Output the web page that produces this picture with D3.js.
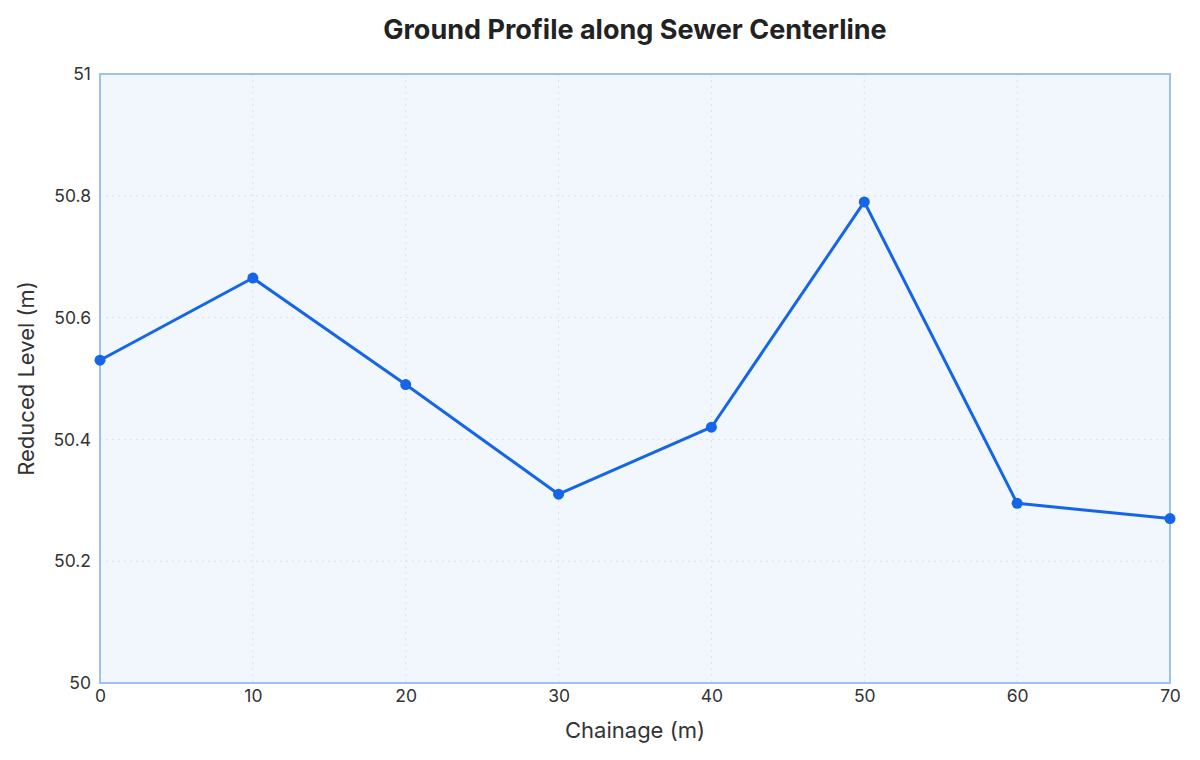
<!DOCTYPE html>
<html>
<head>
<meta charset="utf-8">
<script src="https://cdn.jsdelivr.net/npm/d3@7"></script>
<style>
  html, body { margin: 0; padding: 0; background: #fff; }
  svg { display: block; font-family: Inter, "Noto Sans", sans-serif; }
</style>
</head>
<body>
<svg id="chart" width="1200" height="760"></svg>
<script>
const chainage = [0, 10, 20, 30, 40, 50, 60, 70];
const reducedLevel = [50.53, 50.665, 50.49, 50.31, 50.42, 50.79, 50.295, 50.27];
const xTicks = [0, 10, 20, 30, 40, 50, 60, 70];
const yTicks = [50, 50.2, 50.4, 50.6, 50.8, 51];
const title = "Ground Profile along Sewer Centerline";
const xLabel = "Chainage (m)";
const yLabel = "Reduced Level (m)";

const margin = { left: 100, right: 30, top: 74, bottom: 77 };
const W = 1200, H = 760;
const iw = W - margin.left - margin.right;
const ih = H - margin.top - margin.bottom;

const svg = d3.select("#chart");
const g = svg.append("g").attr("transform", `translate(${margin.left},${margin.top})`);

const x = d3.scaleLinear().domain([0, 70]).range([0, iw]);
const y = d3.scaleLinear().domain([50, 51]).range([ih, 0]);

g.append("rect").attr("x", 0).attr("y", 0).attr("width", iw).attr("height", ih)
  .attr("fill", "#f2f7fe");

// grid
g.append("g").selectAll("line").data(yTicks.slice(1, -1)).join("line")
  .attr("x1", 0).attr("x2", iw).attr("y1", d => y(d)).attr("y2", d => y(d))
  .attr("stroke", "#dbe3ee").attr("stroke-width", 1).attr("stroke-dasharray", "2,4");
g.append("g").selectAll("line").data(xTicks.slice(1, -1)).join("line")
  .attr("y1", 0).attr("y2", ih).attr("x1", d => x(d)).attr("x2", d => x(d))
  .attr("stroke", "#dbe3ee").attr("stroke-width", 1).attr("stroke-dasharray", "2,4");

// axes
const xAxis = g.append("g").attr("transform", `translate(0,${ih})`)
  .call(d3.axisBottom(x).tickValues(xTicks).tickSize(0).tickPadding(7).tickFormat(d3.format("d")));
const yAxis = g.append("g")
  .call(d3.axisLeft(y).tickValues(yTicks).tickSize(0).tickPadding(9).tickFormat(d => String(+d.toFixed(1))));
[xAxis, yAxis].forEach(a => {
  a.select(".domain").remove();
  a.selectAll("text").attr("fill", "#333").style("font-size", "17.5px").style("font-family", "Inter, sans-serif");
});

// border
g.append("rect").attr("x", 0).attr("y", 0).attr("width", iw).attr("height", ih)
  .attr("fill", "none").attr("stroke", "#9ec0f7").attr("stroke-width", 2);

// line
const pts = chainage.map((c, i) => [c, reducedLevel[i]]);
g.append("path").datum(pts)
  .attr("fill", "none").attr("stroke", "#1565e8").attr("stroke-width", 3)
  .attr("stroke-linejoin", "round")
  .attr("d", d3.line().x(d => x(d[0])).y(d => y(d[1])));
g.append("g").selectAll("circle").data(pts).join("circle")
  .attr("cx", d => x(d[0])).attr("cy", d => y(d[1])).attr("r", 5.5)
  .attr("fill", "#1565e8");

// title & labels
svg.append("text").attr("x", margin.left + iw / 2).attr("y", 39)
  .attr("text-anchor", "middle").attr("fill", "#222")
  .style("font-size", "27px").style("font-weight", "700").text(title);
svg.append("text").attr("x", margin.left + iw / 2).attr("y", 738)
  .attr("text-anchor", "middle").attr("fill", "#333")
  .style("font-size", "22px").text(xLabel);
svg.append("text").attr("transform", `translate(34,${margin.top + ih / 2}) rotate(-90)`)
  .attr("text-anchor", "middle").attr("fill", "#333")
  .style("font-size", "22px").text(yLabel);
</script>
</body>
</html>
